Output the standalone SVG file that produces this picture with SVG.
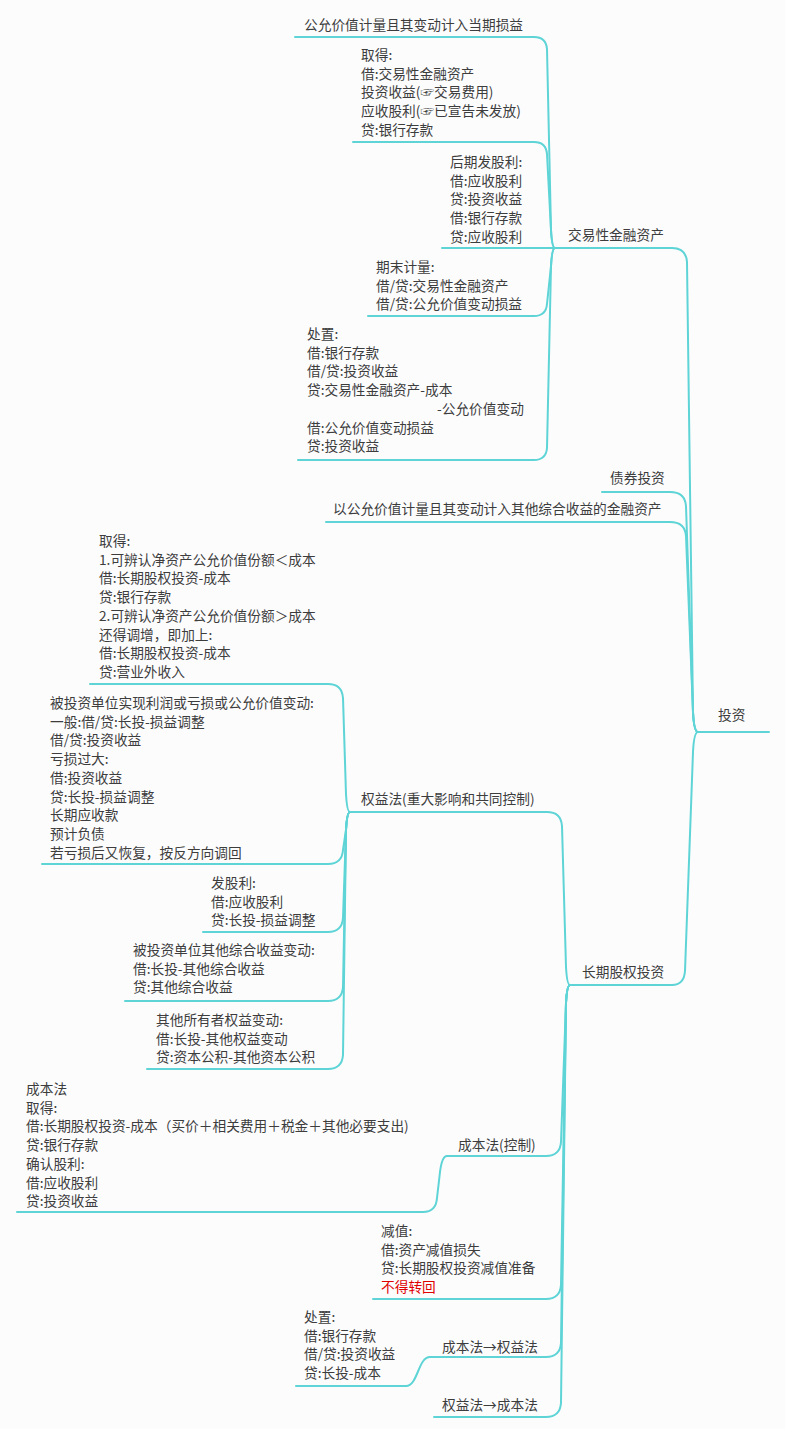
<svg xmlns="http://www.w3.org/2000/svg" width="785" height="1429" viewBox="0 0 785 1429">
<style>
.t{font-family:"Noto Sans CJK SC","Noto Sans",sans-serif;font-size:13.7px;fill:#3d3d3d}
.r{fill:#e00000}
.u{stroke:#5ed4d6;stroke-width:2;fill:none;stroke-linecap:round}
.c{stroke:#5ed4d6;stroke-width:2;fill:none;stroke-linecap:round;stroke-linejoin:round}
</style>
<rect width="785" height="1429" fill="#fcfcfd"/>
<g id="connectors">
<path class="c" d="M672,248 Q686,248 687,262 L693,712 Q694,732 698,732"/>
<path class="c" d="M670,492 Q685,492 686,506 L693,712 Q694,732 698,732"/>
<path class="c" d="M670,522 Q685,522 686,536 L693,712 Q694,732 698,732"/>
<path class="c" d="M672,985 Q684,985 685,971 L693,752 Q694,732 698,732"/>
<path class="c" d="M534,37 Q546,37 547,49 L551,230 Q552,248 555,248"/>
<path class="c" d="M534,142 Q546,142 547,154 L551,230 Q552,248 555,248"/>
<path class="c" d="M545,248 H555"/>
<path class="c" d="M534,316 Q546,316 547,304 L551,266 Q552,248 555,248"/>
<path class="c" d="M534,460 Q546,460 547,448 L551,266 Q552,248 555,248"/>
<path class="c" d="M547,812 Q561,812 562,826 L566,967 Q567,985 570,985"/>
<path class="c" d="M546,1156 Q560,1156 561,1142 L566,1003 Q567,985 570,985"/>
<path class="c" d="M546,1299 Q560,1299 561,1285 L566,1003 Q567,985 570,985"/>
<path class="c" d="M546,1357 Q560,1357 561,1343 L566,1003 Q567,985 570,985"/>
<path class="c" d="M546,1417 Q560,1417 561,1403 L566,1003 Q567,985 570,985"/>
<path class="c" d="M328,684 Q342,684 343,698 L346,794 Q347,812 350,812"/>
<path class="c" d="M328,864 Q342,864 343,850 L346,830 Q347,812 350,812"/>
<path class="c" d="M328,932 Q342,932 343,918 L346,830 Q347,812 350,812"/>
<path class="c" d="M328,1001 Q342,1001 343,987 L346,830 Q347,812 350,812"/>
<path class="c" d="M328,1069 Q342,1069 343,1055 L346,830 Q347,812 350,812"/>
<path class="c" d="M423,1212 Q436,1212 437,1198 L440,1172 Q442,1156 447,1156"/>
<path class="c" d="M406,1386 C418,1386 418,1357 430,1357"/>
</g>
<g id="n-root"><line class="u" x1="698" y1="732" x2="769" y2="732"/><text class="t" x="718" y="720">投资</text></g>
<g id="n-trading"><line class="u" x1="555" y1="248" x2="672" y2="248"/><text class="t" x="568" y="240">交易性金融资产</text></g>
<g id="n-fvpl"><line class="u" x1="295" y1="37" x2="534" y2="37"/><text class="t" x="304" y="30">公允价值计量且其变动计入当期损益</text></g>
<g id="n-acq1"><line class="u" x1="353" y1="142" x2="534" y2="142"/><text class="t" x="361" y="60"><tspan x="361">取得:</tspan><tspan x="361" dy="18.7">借:交易性金融资产</tspan><tspan x="361" dy="18.7">投资收益(☞交易费用)</tspan><tspan x="361" dy="18.7">应收股利(☞已宣告未发放)</tspan><tspan x="361" dy="18.7">贷:银行存款</tspan></text></g>
<g id="n-div1"><line class="u" x1="442" y1="248" x2="545" y2="248"/><text class="t" x="450" y="167"><tspan x="450">后期发股利:</tspan><tspan x="450" dy="18.7">借:应收股利</tspan><tspan x="450" dy="18.7">贷:投资收益</tspan><tspan x="450" dy="18.7">借:银行存款</tspan><tspan x="450" dy="18.7">贷:应收股利</tspan></text></g>
<g id="n-period"><line class="u" x1="368" y1="316" x2="534" y2="316"/><text class="t" x="376" y="272"><tspan x="376">期末计量:</tspan><tspan x="376" dy="18.7">借/贷:交易性金融资产</tspan><tspan x="376" dy="18.7">借/贷:公允价值变动损益</tspan></text></g>
<g id="n-disp1"><line class="u" x1="298" y1="460" x2="534" y2="460"/><text class="t" x="307" y="339"><tspan x="307">处置:</tspan><tspan x="307" dy="18.7">借:银行存款</tspan><tspan x="307" dy="18.7">借/贷:投资收益</tspan><tspan x="307" dy="18.7">贷:交易性金融资产-成本</tspan><tspan x="437" dy="18.7">-公允价值变动</tspan><tspan x="307" dy="18.7">借:公允价值变动损益</tspan><tspan x="307" dy="18.7">贷:投资收益</tspan></text></g>
<g id="n-bond"><line class="u" x1="602" y1="492" x2="670" y2="492"/><text class="t" x="610" y="483">债券投资</text></g>
<g id="n-fvoci"><line class="u" x1="326" y1="522" x2="670" y2="522"/><text class="t" x="333" y="514">以公允价值计量且其变动计入其他综合收益的金融资产</text></g>
<g id="n-lte"><line class="u" x1="570" y1="985" x2="672" y2="985"/><text class="t" x="582" y="977">长期股权投资</text></g>
<g id="n-equity"><line class="u" x1="350" y1="812" x2="547" y2="812"/><text class="t" x="361" y="804">权益法(重大影响和共同控制)</text></g>
<g id="n-acq2"><line class="u" x1="90" y1="684" x2="328" y2="684"/><text class="t" x="99" y="546"><tspan x="99">取得:</tspan><tspan x="99" dy="18.7">1.可辨认净资产公允价值份额＜成本</tspan><tspan x="99" dy="18.7">借:长期股权投资-成本</tspan><tspan x="99" dy="18.7">贷:银行存款</tspan><tspan x="99" dy="18.7">2.可辨认净资产公允价值份额＞成本</tspan><tspan x="99" dy="18.7">还得调增，即加上:</tspan><tspan x="99" dy="18.7">借:长期股权投资-成本</tspan><tspan x="99" dy="18.7">贷:营业外收入</tspan></text></g>
<g id="n-profit"><line class="u" x1="42" y1="864" x2="328" y2="864"/><text class="t" x="50" y="708"><tspan x="50">被投资单位实现利润或亏损或公允价值变动:</tspan><tspan x="50" dy="18.7">一般:借/贷:长投-损益调整</tspan><tspan x="50" dy="18.7">借/贷:投资收益</tspan><tspan x="50" dy="18.7">亏损过大:</tspan><tspan x="50" dy="18.7">借:投资收益</tspan><tspan x="50" dy="18.7">贷:长投-损益调整</tspan><tspan x="50" dy="18.7">长期应收款</tspan><tspan x="50" dy="18.7">预计负债</tspan><tspan x="50" dy="18.7">若亏损后又恢复，按反方向调回</tspan></text></g>
<g id="n-div2"><line class="u" x1="203" y1="932" x2="328" y2="932"/><text class="t" x="211" y="888"><tspan x="211">发股利:</tspan><tspan x="211" dy="18.7">借:应收股利</tspan><tspan x="211" dy="18.7">贷:长投-损益调整</tspan></text></g>
<g id="n-oci"><line class="u" x1="125" y1="1001" x2="328" y2="1001"/><text class="t" x="133" y="955"><tspan x="133">被投资单位其他综合收益变动:</tspan><tspan x="133" dy="18.7">借:长投-其他综合收益</tspan><tspan x="133" dy="18.7">贷:其他综合收益</tspan></text></g>
<g id="n-other"><line class="u" x1="147" y1="1069" x2="328" y2="1069"/><text class="t" x="156" y="1025"><tspan x="156">其他所有者权益变动:</tspan><tspan x="156" dy="18.7">借:长投-其他权益变动</tspan><tspan x="156" dy="18.7">贷:资本公积-其他资本公积</tspan></text></g>
<g id="n-cost"><line class="u" x1="447" y1="1156" x2="546" y2="1156"/><text class="t" x="458" y="1150">成本法(控制)</text></g>
<g id="n-costdetail"><line class="u" x1="17" y1="1212" x2="423" y2="1212"/><text class="t" x="26" y="1094"><tspan x="26">成本法</tspan><tspan x="26" dy="18.7">取得:</tspan><tspan x="26" dy="18.7">借:长期股权投资-成本（买价＋相关费用＋税金＋其他必要支出)</tspan><tspan x="26" dy="18.7">贷:银行存款</tspan><tspan x="26" dy="18.7">确认股利:</tspan><tspan x="26" dy="18.7">借:应收股利</tspan><tspan x="26" dy="18.7">贷:投资收益</tspan></text></g>
<g id="n-impair"><line class="u" x1="373" y1="1299" x2="546" y2="1299"/><text class="t" x="381" y="1236"><tspan x="381">减值:</tspan><tspan x="381" dy="18.7">借:资产减值损失</tspan><tspan x="381" dy="18.7">贷:长期股权投资减值准备</tspan><tspan x="381" dy="18.7" class="r">不得转回</tspan></text></g>
<g id="n-c2e"><line class="u" x1="430" y1="1357" x2="546" y2="1357"/><text class="t" x="442" y="1352">成本法→权益法</text></g>
<g id="n-disp2"><line class="u" x1="296" y1="1386" x2="406" y2="1386"/><text class="t" x="304" y="1322"><tspan x="304">处置:</tspan><tspan x="304" dy="18.7">借:银行存款</tspan><tspan x="304" dy="18.7">借/贷:投资收益</tspan><tspan x="304" dy="18.7">贷:长投-成本</tspan></text></g>
<g id="n-e2c"><line class="u" x1="434" y1="1417" x2="546" y2="1417"/><text class="t" x="442" y="1410">权益法→成本法</text></g>
</svg>
